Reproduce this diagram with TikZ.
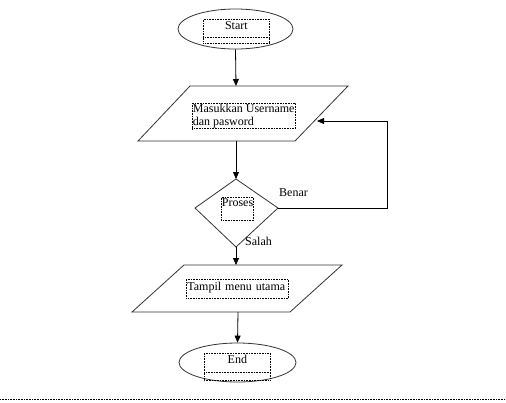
\documentclass[tikz,border=0pt]{standalone}
\usepackage{fontspec}
\setmainfont{Liberation Serif}
\usepackage{tikz}
\usetikzlibrary{positioning}
\usetikzlibrary{shapes.geometric}
\usetikzlibrary{arrows.meta}

\tikzset{
    terminal/.style={draw=black!80, ellipse, line width=0.8pt, minimum width=115pt, minimum height=40pt, inner sep=0pt},
    dotline/.style={dash pattern=on 0.8pt off 0.8pt, line width=0.8pt},
    txtbox/.style={draw, dotline, inner xsep=0.5pt, inner ysep=1pt, anchor=north west, align=left, font=\fontsize{12}{12.5}\selectfont},
    lbl/.style={font=\fontsize{12}{12.5}\selectfont, inner sep=0pt},
    flow/.style={-{Triangle[length=7pt,width=6pt]}, line width=0.8pt},
    shapeline/.style={draw=black!80, line width=0.8pt},
}

\begin{document}
\begin{tikzpicture}[x=1pt, y=-1pt]
    \useasboundingbox (0,0) rectangle (506,402);

    % terminals
    \node[terminal] (start) at (235.5,29) {};
    \node[terminal, minimum width=117pt, minimum height=39pt] (end) at (237.5,362.5) {};

    % input, decision, output
    \draw[shapeline] (190,86) -- (348,86) -- (295,141) -- (138,141) -- cycle;
    \draw[shapeline] (236,179) -- (278,208) -- (236,247) -- (195,208) -- cycle;
    \draw[shapeline] (184,265) -- (342,265) -- (290,312) -- (132,312) -- cycle;

    \coordinate (in1n) at (236,86);
    \coordinate (in1s) at (236,141);
    \coordinate (in1e) at (317,121);
    \coordinate (decn) at (236,179);
    \coordinate (dece) at (278,208);
    \coordinate (decs) at (236,247);
    \coordinate (loop) at (387,208);
    \coordinate (out1n) at (236,265);
    \coordinate (out1s) at (238,312);

    % texts
    \node[txtbox, minimum width=66pt, text height=9.3pt, text depth=6.7pt, align=center] (starttxt) at (203,19) {Start};
    \draw[dotline] (starttxt.south west) -- ++(0,6) -| (starttxt.south east);
    \node[txtbox] (in1txt) at (192,103) {Masukkan Username\\dan pasword};
    \node[txtbox, text height=8.5pt, text depth=12.5pt] (dectxt) at (221,197) {Proses};
    \node[txtbox, minimum width=102pt, text width=100pt, inner xsep=1pt, text height=10pt, text depth=7pt] (out1txt) at (186,279) {Tampil menu utama};
    \node[txtbox, minimum width=66pt, text height=9pt, text depth=8pt, align=center] (endtxt) at (204,353) {End};
    \draw[dotline] (endtxt.south west) -- ++(0,8) -| (endtxt.south east);

    \node[lbl] (benar) at (293.5,193) {Benar};
    \node[lbl] (salah) at (258.5,241) {Salah};

    % connectors
    \draw[flow] (start.south) -- (in1n);
    \draw[flow] (in1s) -- (decn);
    \draw[flow] (decs) -- (out1n);
    \draw[flow] (out1s) -- (end.north);
    \draw[flow] (dece) -- (loop) |- (in1e);

    \draw[dotline] (0,399) -- (506,399);
\end{tikzpicture}
\end{document}
